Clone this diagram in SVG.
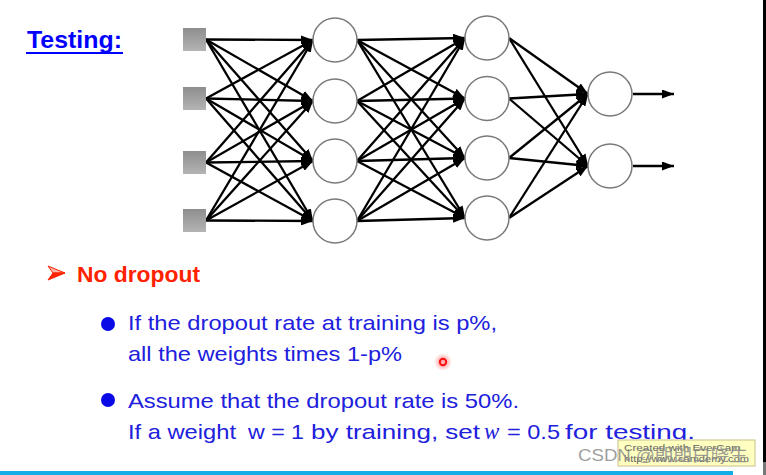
<svg xmlns="http://www.w3.org/2000/svg" width="766" height="475" viewBox="0 0 766 475">
<defs>
<marker id="ah" markerUnits="userSpaceOnUse" markerWidth="12" markerHeight="9" refX="12" refY="4.5" orient="auto">
<path d="M0,0 L12,4.5 L0,9 z" fill="#000"/>
</marker>
<linearGradient id="sq" x1="0" y1="0" x2="0" y2="1">
<stop offset="0" stop-color="#8e8e8e"/>
<stop offset="1" stop-color="#b4b4b4"/>
</linearGradient>
<radialGradient id="glow">
<stop offset="0" stop-color="#ff0000" stop-opacity="0.5"/>
<stop offset="1" stop-color="#ff0000" stop-opacity="0"/>
</radialGradient>
<style>
.sq{fill:url(#sq);}
.nd{fill:#fff;stroke:#7a7a7a;stroke-width:1.5;}
.ed line{stroke:#000;stroke-width:2.3;marker-end:url(#ah);}
.bl{font-family:"Liberation Sans",Arial,sans-serif;font-size:21px;fill:#2020dd;}
.mi{font-family:"Liberation Serif","Times New Roman",serif;font-style:italic;font-size:23px;fill:#2020dd;}
.dot{fill:#0a0ae6;}
</style>
</defs>
<rect width="766" height="475" fill="#fff"/>

<g id="title">
<text x="27" y="48" font-family="Liberation Sans,Arial,sans-serif" font-weight="bold" font-size="24" fill="#0000ff" textLength="95" lengthAdjust="spacingAndGlyphs">Testing:</text>
<line x1="26" y1="53" x2="123" y2="53" stroke="#0000ff" stroke-width="1.8"/>
</g>

<g id="connectors" class="ed">
<line x1="206" y1="39.5" x2="313" y2="40"/><line x1="206" y1="39.5" x2="313" y2="101"/><line x1="206" y1="39.5" x2="313" y2="161"/><line x1="206" y1="39.5" x2="313" y2="221"/>
<line x1="206" y1="98.5" x2="313" y2="40"/><line x1="206" y1="98.5" x2="313" y2="101"/><line x1="206" y1="98.5" x2="313" y2="161"/><line x1="206" y1="98.5" x2="313" y2="221"/>
<line x1="206" y1="162.5" x2="313" y2="40"/><line x1="206" y1="162.5" x2="313" y2="101"/><line x1="206" y1="162.5" x2="313" y2="161"/><line x1="206" y1="162.5" x2="313" y2="221"/>
<line x1="206" y1="220.5" x2="313" y2="40"/><line x1="206" y1="220.5" x2="313" y2="101"/><line x1="206" y1="220.5" x2="313" y2="161"/><line x1="206" y1="220.5" x2="313" y2="221"/>

<line x1="357" y1="40" x2="465" y2="38"/><line x1="357" y1="40" x2="465" y2="98.5"/><line x1="357" y1="40" x2="465" y2="158"/><line x1="357" y1="40" x2="465" y2="218"/>
<line x1="357" y1="101" x2="465" y2="38"/><line x1="357" y1="101" x2="465" y2="98.5"/><line x1="357" y1="101" x2="465" y2="158"/><line x1="357" y1="101" x2="465" y2="218"/>
<line x1="357" y1="161" x2="465" y2="38"/><line x1="357" y1="161" x2="465" y2="98.5"/><line x1="357" y1="161" x2="465" y2="158"/><line x1="357" y1="161" x2="465" y2="218"/>
<line x1="357" y1="221" x2="465" y2="38"/><line x1="357" y1="221" x2="465" y2="98.5"/><line x1="357" y1="221" x2="465" y2="158"/><line x1="357" y1="221" x2="465" y2="218"/>

<line x1="509" y1="38" x2="588" y2="94"/><line x1="509" y1="38" x2="588" y2="166"/>
<line x1="509" y1="98.5" x2="588" y2="94"/><line x1="509" y1="98.5" x2="588" y2="166"/>
<line x1="509" y1="158" x2="588" y2="94"/><line x1="509" y1="158" x2="588" y2="166"/>
<line x1="509" y1="218" x2="588" y2="94"/><line x1="509" y1="218" x2="588" y2="166"/>

<line x1="633" y1="94" x2="674" y2="94"/><line x1="633" y1="166" x2="674" y2="166"/>
</g>

<g id="in1"><rect class="sq" x="183" y="28" width="23" height="23"/></g>
<g id="in2"><rect class="sq" x="183" y="87" width="23" height="23"/></g>
<g id="in3"><rect class="sq" x="183" y="151" width="23" height="23"/></g>
<g id="in4"><rect class="sq" x="183" y="209" width="23" height="23"/></g>

<g id="h1a"><circle class="nd" cx="335" cy="40" r="22"/></g>
<g id="h1b"><circle class="nd" cx="335" cy="101" r="22"/></g>
<g id="h1c"><circle class="nd" cx="335" cy="161" r="22"/></g>
<g id="h1d"><circle class="nd" cx="335" cy="221" r="22"/></g>

<g id="h2a"><circle class="nd" cx="487" cy="38" r="22"/></g>
<g id="h2b"><circle class="nd" cx="487" cy="98.5" r="22"/></g>
<g id="h2c"><circle class="nd" cx="487" cy="158" r="22"/></g>
<g id="h2d"><circle class="nd" cx="487" cy="218" r="22"/></g>

<g id="out1"><circle class="nd" cx="610" cy="94" r="22"/></g>
<g id="out2"><circle class="nd" cx="610" cy="166" r="22"/></g>

<g id="heading">
<polygon points="48,266 65,273 53,273" fill="#ffb4a8" stroke="#ff2200" stroke-width="1"/>
<polygon points="53,273 65,273 48,280" fill="#ff2200" stroke="#ff2200" stroke-width="1"/>
<text x="77" y="282" font-family="Liberation Sans,Arial,sans-serif" font-weight="bold" font-size="22" fill="#ff2200" textLength="123" lengthAdjust="spacingAndGlyphs">No dropout</text>
</g>

<g id="bullet1">
<circle class="dot" cx="108" cy="324" r="7"/>
<text class="bl" x="128" y="330" textLength="369" lengthAdjust="spacingAndGlyphs">If the dropout rate at training is p%,</text>
<text class="bl" x="128" y="361" textLength="274" lengthAdjust="spacingAndGlyphs">all the weights times 1-p%</text>
</g>

<g id="pointer">
<circle cx="443" cy="362" r="9" fill="url(#glow)"/>
<circle cx="443" cy="362" r="3.2" fill="#ffb0b0" stroke="#ff1010" stroke-width="2"/>
</g>

<g id="bullet2">
<circle class="dot" cx="108" cy="400" r="7"/>
<text class="bl" x="128" y="408" textLength="391" lengthAdjust="spacingAndGlyphs">Assume that the dropout rate is 50%.</text>
<text class="bl" x="128" y="439" textLength="108" lengthAdjust="spacingAndGlyphs">If a weight</text>
<text class="bl" x="248" y="439" textLength="56" lengthAdjust="spacingAndGlyphs">w = 1</text>
<text class="bl" x="311" y="439" textLength="169" lengthAdjust="spacingAndGlyphs">by training, set</text>
<text class="mi" x="484" y="439">w</text>
<text class="bl" x="507" y="439" textLength="53" lengthAdjust="spacingAndGlyphs">= 0.5</text>
<text class="bl" x="565" y="439" textLength="130" lengthAdjust="spacingAndGlyphs">for testing.</text>
</g>

<g id="watermark">
<rect x="618" y="440" width="137" height="26" fill="#ffffc0" stroke="#c8c08c" stroke-width="1"/>
<text x="624" y="451" font-family="Liberation Sans,Arial,sans-serif" font-size="9" fill="#666" textLength="120" lengthAdjust="spacingAndGlyphs">Created with EverCam.</text>
<text x="624" y="462" font-family="Liberation Sans,Arial,sans-serif" font-size="9" fill="#666" textLength="125" lengthAdjust="spacingAndGlyphs">http://www.camdemy.com</text>
<text x="578" y="461" font-family="Liberation Sans,'Noto Sans CJK SC',sans-serif" font-size="17" fill="#8c8c8c" fill-opacity="0.85" textLength="170" lengthAdjust="spacingAndGlyphs">CSDN @朗朗白晓生</text>
</g>

<rect x="0" y="471" width="733" height="4" fill="#12aee8"/>
<rect x="763" y="0" width="3" height="462" fill="#000"/>
<rect x="763" y="462" width="3" height="13" fill="#777"/>
</svg>
